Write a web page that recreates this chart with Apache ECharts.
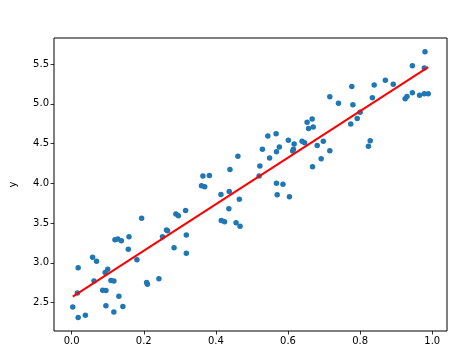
<!DOCTYPE html>
<html>
<head>
<meta charset="utf-8">
<script src="https://cdn.jsdelivr.net/npm/echarts@6/dist/echarts.min.js"></script>
<style>html,body{margin:0;padding:0;background:#fff}#c{width:475px;height:354px}</style>
</head>
<body>
<div id="c"></div>
<script>
const xs = [0.003,0.016,0.018,0.018,0.038,0.058,0.062,0.069,0.086,0.095,0.095,0.093,0.100,0.109,0.117,0.117,0.131,0.142,0.120,0.128,
0.138,0.159,0.157,0.181,0.194,0.208,0.210,0.242,0.252,0.263,0.266,0.284,0.289,0.296,0.316,0.318,0.318,0.360,0.369,0.364,
0.382,0.414,0.437,0.436,0.439,0.415,0.424,0.456,0.467,0.465,0.461,0.520,0.522,0.529,0.544,0.549,0.567,0.568,0.576,0.568,
0.586,0.570,0.604,0.601,0.617,0.615,0.613,0.639,0.646,0.653,0.667,0.657,0.670,0.681,0.698,0.692,0.668,0.716,0.716,0.740,
0.774,0.777,0.780,0.792,0.800,0.823,0.828,0.834,0.839,0.870,0.892,0.925,0.930,0.945,0.945,0.965,0.978,0.989,0.978,0.980];
const ys = [2.443,2.619,2.938,2.311,2.340,3.069,2.770,3.019,2.653,2.651,2.460,2.877,2.918,2.777,2.770,2.381,2.578,2.450,3.290,3.299,
3.277,3.328,3.169,3.037,3.559,2.752,2.730,2.799,3.326,3.412,3.402,3.189,3.613,3.591,3.657,3.349,3.119,3.969,3.957,4.091,
4.097,3.858,3.896,3.680,4.173,3.531,3.516,3.503,3.460,3.798,4.339,4.091,4.217,4.427,4.594,4.318,4.623,4.397,4.456,3.999,
3.988,3.856,3.830,4.540,4.494,4.427,4.406,4.528,4.509,4.767,4.808,4.689,4.708,4.475,4.528,4.309,4.208,4.409,5.087,5.006,
4.745,5.217,4.987,4.814,4.894,4.466,4.535,5.076,5.236,5.295,5.245,5.064,5.091,5.138,5.477,5.106,5.126,5.126,5.450,5.655];
const fitX = [0.003, 0.989];
const fitY = [2.575, 5.461];
const xTicks = [0.0, 0.2, 0.4, 0.6, 0.8, 1.0];
const yTicks = [2.5, 3.0, 3.5, 4.0, 4.5, 5.0, 5.5];

const chart = echarts.init(document.getElementById('c'), null, {renderer:'canvas'});
const font = 'DejaVu Sans';
chart.setOption({
  animation:false,
  grid:{left:54, right:28, top:38, bottom:23, show:true, borderColor:'#000', borderWidth:1, backgroundColor:'transparent'},
  xAxis:{type:'value', min:-0.049, max:1.041,
    axisLine:{show:false, onZero:false},
    axisTick:{show:true, length:3.5, customValues:xTicks, lineStyle:{color:'#000', width:0.8}},
    axisLabel:{customValues:xTicks, color:'#000', fontFamily:font, fontSize:10, margin:5, formatter:v=>v.toFixed(1)},
    splitLine:{show:false}},
  yAxis:{type:'value', min:2.142, max:5.827, name:'y', nameLocation:'middle', nameGap:36,
    nameTextStyle:{color:'#000', fontFamily:font, fontSize:10},
    axisLine:{show:false, onZero:false},
    axisTick:{show:true, length:3.5, customValues:yTicks, lineStyle:{color:'#000', width:0.8}},
    axisLabel:{customValues:yTicks, color:'#000', fontFamily:font, fontSize:10, margin:5, formatter:v=>v.toFixed(1)},
    splitLine:{show:false}},
  series:[
    {type:'scatter', data:xs.map((x,i)=>[x,ys[i]]), symbolSize:5.5, itemStyle:{color:'#1f77b4', opacity:1}, z:2},
    {type:'line', data:fitX.map((x,i)=>[x,fitY[i]]), showSymbol:false, symbol:'none', lineStyle:{color:'#ff0000', width:2}, z:3}
  ]
});
</script>
</body>
</html>
